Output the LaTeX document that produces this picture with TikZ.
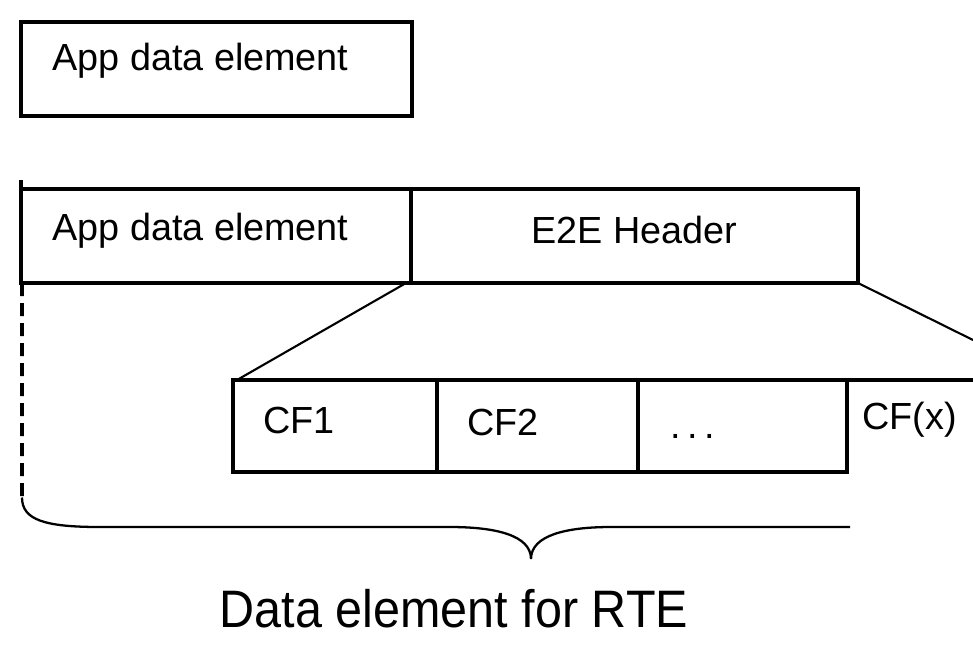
\documentclass[tikz,border=0pt]{standalone}
\usepackage{fontspec}
\setmainfont{Liberation Sans}
\usetikzlibrary{positioning, calc}

\begin{document}
\begin{tikzpicture}[
  every node/.style={font=\fontsize{21.5}{25}\selectfont},
  field/.style={rectangle, draw=black, line width=1.8pt, anchor=north west, inner sep=0pt, outer sep=0pt, minimum height=1.88cm},
  cell/.style={rectangle, draw=black, line width=1.8pt, anchor=north west, inner sep=0pt, outer sep=0pt, minimum height=1.84cm},
  fieldtext/.style={anchor=west, inner sep=0pt},
  zoomline/.style={line width=1.2pt},
]
\useasboundingbox (0,0) rectangle (19.46,-12.98);

% Plain element
\node[field, minimum width=7.82cm] (app) at (0.42,-0.44) {};
\node[fieldtext] (apptext) at (1.04,-1.22) {App data element};

% Protected element
\node[field, minimum width=7.8cm] (appe) at (0.42,-3.78) {};
\node[field, minimum width=8.94cm] (hdr) at (appe.north east) {};
\node[fieldtext] (appetext) at (1.04,-4.62) {App data element};
\node (hdrtext) at ([yshift=0.12cm]hdr.center) {E2E Header};
\coordinate (tick) at (0.42,-3.6);
\draw[line width=1.8pt] (tick) -- (appe.north west);

% Control fields
\node[cell, minimum width=4.08cm] (cf1) at (4.66,-7.6) {};
\node[cell, minimum width=4.02cm] (cf2) at (cf1.north east) {};
\node[cell, minimum width=4.18cm] (cfdots) at (cf2.north east) {};
\coordinate (cfend) at (19.46,-7.6);
\draw[line width=1.8pt] (cfdots.north east) -- (cfend);
\node[fieldtext] (cf1text) at (5.26,-8.4) {CF1};
\node[fieldtext] (cf2text) at (9.34,-8.45) {CF2};
\node (dotstext) at (13.86,-8.72) {.\,.\,.};
\node[fieldtext] (cfxtext) at (17.24,-8.4) {CF(x)};

% Zoom lines
\coordinate (zoomend) at (19.46,-6.8);
\draw[zoomline] ([xshift=-0.1cm]hdr.south west) -- ([xshift=0.08cm]cf1.north west);
\draw[zoomline] (hdr.south east) -- (zoomend);

% Brace
\coordinate (bend) at (0.44,-9.95);
\draw[line width=2pt, dash pattern=on 0.26cm off 0.14cm] ([xshift=0.02cm]appe.south west) -- (bend);
\draw[line width=1.3pt] (bend) .. controls (0.44,-10.4) and (0.9,-10.54) .. (2.0,-10.54)
  -- (9.0,-10.54) .. controls (9.9,-10.54) and (10.62,-10.7) .. (10.62,-11.18)
  .. controls (10.62,-10.7) and (11.34,-10.54) .. (12.22,-10.54) -- (17.0,-10.54);
\node (rte) at (9.08,-12.18) {\fontsize{30}{36}\selectfont\scalebox{0.92}[1]{Data element for RTE}};

\end{tikzpicture}
\end{document}
